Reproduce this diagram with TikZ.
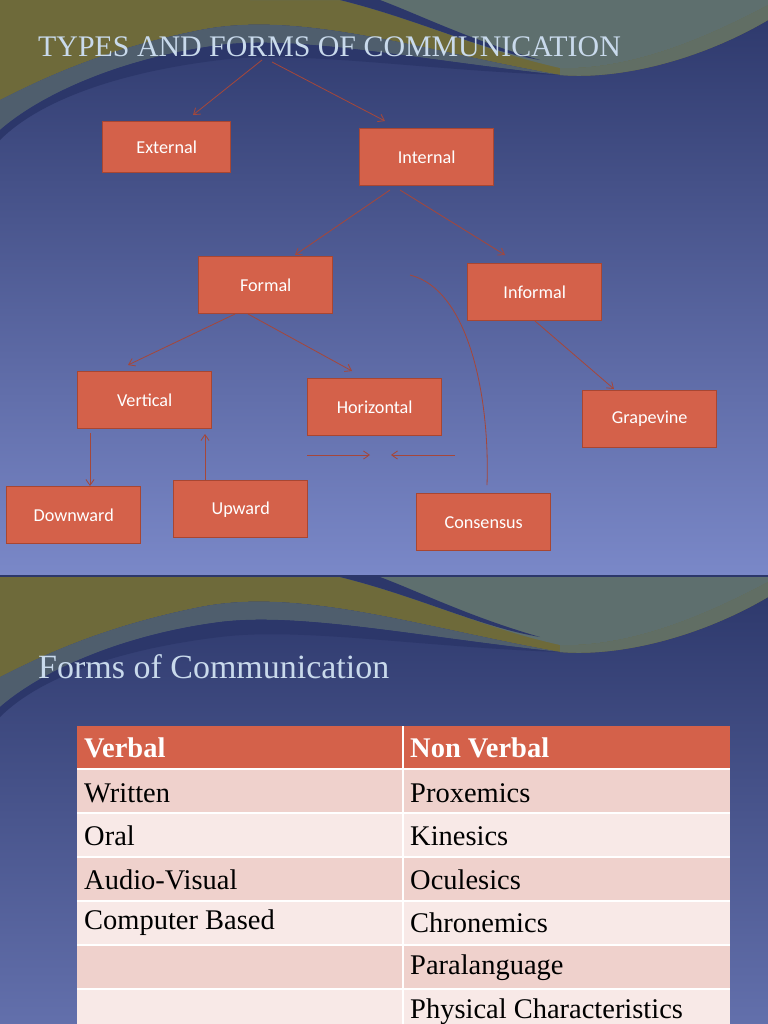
\documentclass[tikz,border=0pt]{standalone}
\usepackage{fontspec}
\setmainfont{Liberation Serif}
\newfontfamily\boxfont{Carlito}
\usetikzlibrary{arrows.meta}
\definecolor{boxfill}{HTML}{D4614A}
\definecolor{boxline}{HTML}{A84632}
\definecolor{arr}{HTML}{A5473A}
\definecolor{navytop}{HTML}{2C376A}
\definecolor{navybot}{HTML}{7A88C8}
\definecolor{olive}{HTML}{6E6A3A}
\definecolor{teal}{HTML}{5E6F6E}
\definecolor{titlec}{HTML}{C9DAEC}
\definecolor{rowa}{HTML}{EFD1CC}
\definecolor{rowb}{HTML}{F8E9E7}
\tikzset{
 cbox/.style={draw=boxline, line width=1.2pt, fill=boxfill, minimum width=134*0.03cm, minimum height=57*0.03cm, text=white, font=\boxfont\fontsize{15.5}{17}\selectfont},
 conn/.style={draw=arr, line width=0.7pt, -{Straight Barb[length=5pt,width=7pt]}},
 cell/.style={anchor=west, inner sep=0pt, font=\fontsize{24.3}{26}\selectfont, text=black},
}
\begin{document}
\begin{tikzpicture}[x=0.03cm,y=-0.03cm]
\useasboundingbox (0,0) rectangle (768,1024);
% backgrounds
\shade[top color=navytop, bottom color=navybot] (0,0) rectangle (768,575);
\fill[navytop] (0,575) rectangle (768,578);
\shade[top color=navytop, bottom color=navybot!70!navytop] (0,578) rectangle (768,1024);
% swooshes
\foreach \oy in {0,577}{
 \begin{scope}[yshift=-\oy*0.03cm]
 \fill[olive] (0,0) -- (768,0) -- (768,20) .. controls (700,60) and (620,80) .. (560,75) .. controls (420,50) and (300,10) .. (200,30) .. controls (100,50) and (40,80) .. (0,100) -- cycle;
 \fill[teal!80!olive] (768,20) .. controls (700,60) and (620,80) .. (560,75) -- (560,68) .. controls (640,70) and (720,30) .. (768,5) -- cycle;
 \fill[teal] (250,0) -- (768,0) -- (768,5) .. controls (720,30) and (640,70) .. (560,68) .. controls (480,50) and (420,20) .. (340,0) -- cycle;
 \fill[navytop] (340,0) .. controls (420,20) and (480,50) .. (540,60) .. controls (470,40) and (420,15) .. (380,0) -- cycle;
 \fill[teal!70!navytop] (0,100) .. controls (40,80) and (100,50) .. (200,30) .. controls (300,10) and (420,50) .. (560,75) .. controls (420,60) and (300,35) .. (220,45) .. controls (120,58) and (40,95) .. (0,130) -- cycle;
 \fill[navytop] (0,130) .. controls (40,95) and (120,58) .. (220,45) .. controls (300,35) and (420,60) .. (560,75) .. controls (420,70) and (300,50) .. (220,60) .. controls (120,72) and (40,100) .. (0,140) -- cycle;
 \end{scope}
}
% slide 1
\node[anchor=west, text=titlec, font=\fontsize{25.5}{27}\selectfont, inner sep=0] (title) at (38,47) {TYPES AND FORMS OF COMMUNICATION};
\coordinate (t1) at (262,60); \coordinate (t2) at (272,62);
\node[cbox, anchor=north west, minimum width=128*0.03cm, minimum height=51*0.03cm] (ext) at (102,121) {External\hspace{2.5em}};
\node[cbox, anchor=north west] (int) at (359,128) {Internal};
\node[cbox, anchor=north west] (formal) at (198,256) {Formal};
\node[cbox, anchor=north west] (informal) at (467,263) {Informal};
\node[cbox, anchor=north west] (vert) at (77,371) {Vertical};
\node[cbox, anchor=north west] (hor) at (307,378) {Horizontal};
\node[cbox, anchor=north west] (grape) at (582,390) {Grapevine};
\node[cbox, anchor=north west] (down) at (6,486) {Downward};
\node[cbox, anchor=north west] (up) at (173,480) {Upward};
\node[cbox, anchor=north west] (cons) at (416,493) {Consensus};
\draw[conn] (t1) -- (193,115);
\draw[conn] (t2) -- (385,121);
\draw[conn] (390,190) -- (295,255);
\draw[conn] (400,190) -- (505,255);
\draw[conn] (235,314) -- (128,365);
\draw[conn] (248,314) -- (352,371);
\draw[conn] (535,321) -- (614,389);
\draw[conn] (90,433) -- (down.north -| 90,0);
\draw[conn] (up.north -| 205,0) -- (205,434);
\coordinate (h1) at (307,455); \coordinate (h2) at (370,455);
\coordinate (h3) at (455,455); \coordinate (h4) at (391,455);
\draw[conn] (h1) -- (h2);
\draw[conn] (h3) -- (h4);
\coordinate (cv) at (410,275);
\draw[arr, line width=0.7pt] (cv) .. controls (470,290) and (490,400) .. (487,485);
% slide 2
\node[anchor=west, text=titlec, font=\fontsize{29}{32}\selectfont, inner sep=0] (title2) at (38,667) {Forms of Communication};
\fill[boxfill] (77,726) rectangle (730,769);
\foreach \y/\c in {769/rowa,813/rowb,857/rowa,901/rowb,945/rowa,989/rowb}{
 \fill[\c] (77,\y) rectangle (730,\y+44);
}
\foreach \y in {769,813,857,901,945,989}{\draw[white, line width=1pt] (77,\y) -- (730,\y);}
\draw[white, line width=1pt] (403,726) -- (403,1024);
\node[cell, text=white, font=\bfseries\fontsize{24.3}{26}\selectfont] (h1c) at (84,748) {Verbal};
\node[cell, text=white, font=\bfseries\fontsize{24.3}{26}\selectfont] (h2c) at (410,748) {Non Verbal};
\node[cell] (a1) at (84,793) {Written};
\node[cell] (a2) at (84,836) {Oral};
\node[cell] (a3) at (84,880) {Audio-Visual};
\node[cell] (a4) at (84,923) {Computer Based};
\node[cell] (b1) at (410,793) {Proxemics};
\node[cell] (b2) at (410,836) {Kinesics};
\node[cell] (b3) at (410,880) {Oculesics};
\node[cell] (b4) at (410,923) {Chronemics};
\node[cell] (b5) at (410,968) {Paralanguage};
\node[cell] (b6) at (410,1012) {Physical Characteristics};
\end{tikzpicture}
\end{document}
